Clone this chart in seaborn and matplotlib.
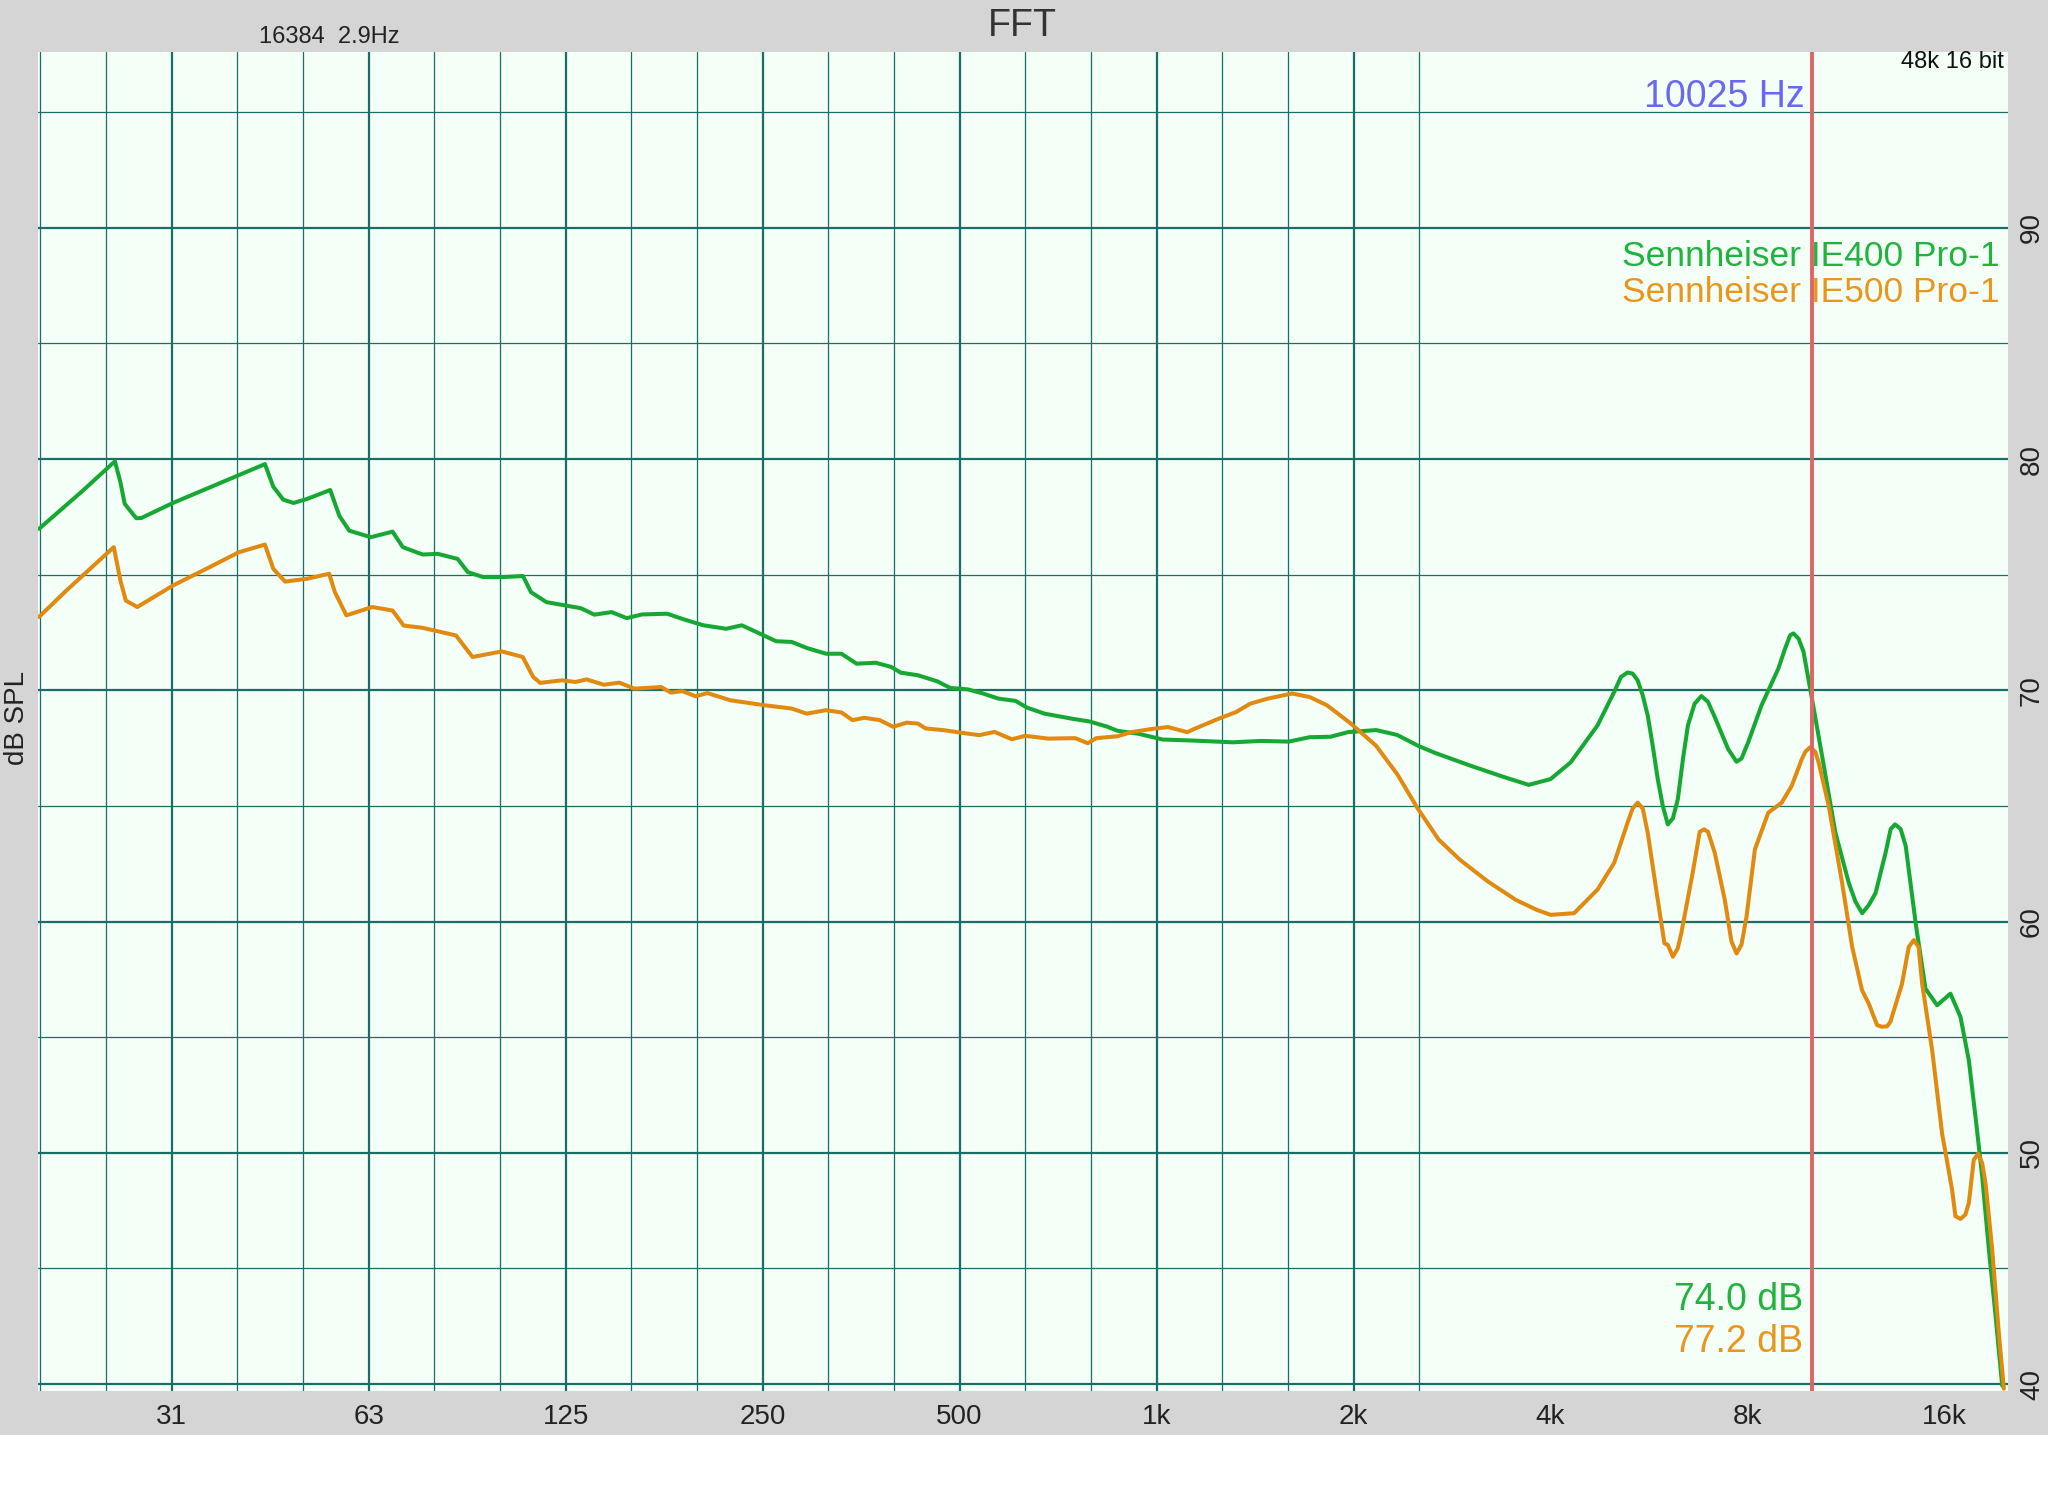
import numpy as np
import pandas as pd

import matplotlib
matplotlib.use("Agg")
import matplotlib.pyplot as plt
from matplotlib.patches import Rectangle
import seaborn as sns


# values (Hz, dB SPL)
ie400_freq = [19.6, 22.8, 25.6, 26.1, 26.5, 27.6, 28.1, 31.4, 37.8, 43.4, 44.7, 46.3, 48.0, 50.3,
              54.6, 56.4, 58.4, 63.0, 68.0, 70.5, 75.6, 79.7, 85.5, 88.6, 93.4, 99.4, 107.6, 110.7,
              116.9, 131.9, 138.3, 147, 155, 163.6, 178.7, 189.8, 203, 220, 232.4, 252, 262.3, 277,
              292, 312.6, 330, 348, 372.4, 393, 406.6, 431.7, 462, 484, 514.7, 543, 573, 609, 634,
              674, 743, 790, 840, 871, 938, 1022, 1128, 1307, 1443, 1592, 1713, 1844, 1961, 2165,
              2331, 2510, 2665, 3017, 3410, 3704, 4000, 4292, 4718, 4888, 5004, 5124, 5245, 5339,
              5434, 5532, 5630, 5730, 5832, 5936, 6042, 6151, 6259, 6373, 6485, 6640, 6800, 6960,
              7128, 7470, 7695, 7831, 8017, 8403, 8915, 9128, 9292, 9400, 9573, 9740, 10033,
              10396, 10897, 11422, 11694, 11973, 12259, 12550, 13000, 13236, 13440, 13709, 13956,
              14457, 14958, 15586, 16335, 16920, 17425, 17837, 18263, 18699, 19145, 19596]
ie400_db = [76.98, 78.6, 79.9, 79.0, 78.06, 77.44, 77.45, 78.1, 79.06, 79.78, 78.8, 78.24, 78.1, 78.27,
            78.66, 77.54, 76.9, 76.62, 76.86, 76.19, 75.87, 75.9, 75.68, 75.11, 74.9, 74.89, 74.94, 74.24,
            73.81, 73.55, 73.27, 73.38, 73.12, 73.28, 73.31, 73.06, 72.81, 72.66, 72.81, 72.35, 72.12, 72.09,
            71.83, 71.58, 71.58, 71.15, 71.19, 71.01, 70.76, 70.65, 70.39, 70.1, 70.04, 69.86, 69.64, 69.54, 69.25,
            68.99, 68.77, 68.65, 68.43, 68.25, 68.12, 67.87, 67.83, 67.75, 67.81, 67.78, 67.97, 67.99, 68.19, 68.28,
            68.07, 67.6, 67.29, 66.74, 66.23, 65.91, 66.16, 66.88, 68.48, 69.35, 69.93, 70.58, 70.77, 70.72,
            70.43, 69.78, 68.91, 67.6, 66.16, 65.0, 64.2, 64.46, 65.29, 67.03, 68.48, 69.42, 69.75, 69.5,
            68.84, 67.46, 66.91, 67.05, 67.75, 69.35, 70.94, 71.8, 72.38, 72.46, 72.23, 71.67, 69.64,
            67.17, 63.84, 61.67, 60.86, 60.36, 60.72, 61.23, 62.97, 64.0, 64.2, 64.0, 63.26,
            59.9, 57.1, 56.38, 56.88, 55.88, 54.0, 51.57, 48.98, 45.82, 42.95, 39.93]

ie500_freq = [19.6, 21.5, 25.5, 26.1, 26.6, 27.7, 31.4, 35.3, 39.6, 43.4, 44.7, 46.6, 50.3, 54.4, 55.5,
              57.8, 63.3, 68.0, 70.7, 75.6, 85, 90.1, 99.9, 107.5, 111.5, 114.3, 123.3, 129.4, 134.6, 143,
              151, 159.3, 175, 181, 188.6, 197.6, 205.9, 223, 252, 277, 292, 312.6, 330, 343, 357.6, 377.5,
              395.8, 414.9, 431.7, 443.8, 474.6, 501, 536, 565.6, 601, 630, 683, 751, 785, 809, 871, 915,
              985, 1041, 1114, 1142, 1244, 1323, 1390, 1479, 1611, 1713, 1822, 1983, 2165, 2331, 2510,
              2697, 2905, 3205, 3538, 3806, 4000, 4345, 4718, 5004, 5245, 5339, 5434, 5532, 5630, 5832,
              5971, 6042, 6151, 6259, 6335, 6594, 6760, 6863, 6960, 7128, 7383, 7559, 7695, 7831, 7971,
              8209, 8605, 9021, 9345, 9685, 9802, 9973, 10153, 10273, 10644, 11157, 11558, 11967,
              12254, 12617, 12843, 13069, 13222, 13775, 14104, 14360, 14600, 14786, 15315, 15858,
              16429, 16623, 16920, 17218, 17425, 17731, 18003, 18263, 18479, 18918, 19362, 19711]
ie500_db = [73.17, 74.27, 76.19, 74.75, 73.88, 73.6, 74.53, 75.25, 75.97, 76.3, 75.25, 74.7, 74.82, 75.04, 74.25,
            73.24, 73.6, 73.45, 72.8, 72.7, 72.37, 71.44, 71.68, 71.44, 70.58, 70.32, 70.43, 70.36, 70.47, 70.24,
            70.33, 70.07, 70.14, 69.9, 69.96, 69.74, 69.88, 69.57, 69.35, 69.21, 68.99, 69.14, 69.04, 68.71, 68.81, 68.71,
            68.42, 68.6, 68.56, 68.35, 68.27, 68.17, 68.06, 68.2, 67.88, 68.03, 67.91, 67.93, 67.71, 67.93, 68.01, 68.19,
            68.33, 68.41, 68.19, 68.33, 68.77, 69.06, 69.42, 69.64, 69.86, 69.71, 69.35, 68.55, 67.6, 66.38, 64.86,
            63.55, 62.68, 61.74, 60.94, 60.51, 60.29, 60.36, 61.38, 62.54, 64.28, 64.89, 65.14, 64.89, 63.84, 60.94,
            59.06, 58.99, 58.48, 58.85, 59.49, 62.1, 63.88, 63.99, 63.88, 62.97, 60.94, 59.14, 58.62, 59.0, 60.22,
            63.12, 64.71, 65.14, 65.87, 67.03, 67.34, 67.54, 67.34, 66.88, 65.0, 61.67, 58.91, 57.03,
            56.45, 55.52, 55.45, 55.47, 55.66, 57.31, 58.9, 59.2, 58.9, 57.31, 54.44, 50.85,
            48.4, 47.26, 47.14, 47.33, 47.83, 49.7, 49.96, 49.55, 48.69, 45.82, 42.23, 39.8]

series_names = ["Sennheiser IE400 Pro-1", "Sennheiser IE500 Pro-1"]
level_labels = ["74.0 dB", "77.2 dB"]

x_tick_freqs = [31.25, 62.5, 125, 250, 500, 1000, 2000, 4000, 8000, 16000]
x_tick_labels = ["31", "63", "125", "250", "500", "1k", "2k", "4k", "8k", "16k"]
y_tick_values = [40, 50, 60, 70, 80, 90]

cursor_freq = 10025


df = pd.concat([
    pd.DataFrame({"freq": ie400_freq, "spl": ie400_db, "model": series_names[0]}),
    pd.DataFrame({"freq": ie500_freq, "spl": ie500_db, "model": series_names[1]}),
])

line_colors = {series_names[0]: "#16a832", series_names[1]: "#e08a10"}
text_colors = ["#22b23e", "#e8961e"]
grid_color = "#1b6e65"

sns.set_style("white")
plt.rcParams["font.family"] = ["Liberation Sans", "DejaVu Sans"]

W, H = 2048, 1496
fig = plt.figure(figsize=(W / 100, H / 100), dpi=100, facecolor="#d5d5d5")
fig.patches.append(
    Rectangle((0, 0), 1, 61 / H, transform=fig.transFigure,
              facecolor="white", edgecolor="none", zorder=0)
)

left, right, top, bottom = 38, 2008, 52, 1391
ax = fig.add_axes([left / W, 1 - bottom / H, (right - left) / W, (bottom - top) / H])
ax.set_facecolor("#f3fff7")

ax.set_xscale("log")
ax.set_xlim(20000 / 1024, 20000)
ax.set_ylim(39.7, 97.6)

# third octave grid, thicker on whole octaves
for k in range(-17, 5):
    f = 1000 * 2 ** (k / 3)
    ax.axvline(f, color=grid_color, lw=1.6 if k % 3 == 0 else 0.9, zorder=1)

for v in range(40, 100, 5):
    ax.axhline(v, color=grid_color, lw=1.6 if v % 10 == 0 else 0.9, zorder=1)

sns.lineplot(
    data=df,
    x="freq",
    y="spl",
    hue="model",
    palette=line_colors,
    estimator=None,
    sort=False,
    linewidth=2.9,
    legend=False,
    ax=ax,
    zorder=3
)

ax.axvline(cursor_freq, color="#e06464", lw=2.8, zorder=4)

for s in ax.spines.values():
    s.set_visible(False)

ax.minorticks_off()
ax.set_xticks(x_tick_freqs)
ax.set_xticklabels(x_tick_labels)
ax.tick_params(axis="x", length=0, pad=9, labelsize=20, labelcolor="#222222")

ax.yaxis.tick_right()
ax.set_yticks(y_tick_values)
ax.set_yticklabels([str(v) for v in y_tick_values])
ax.tick_params(axis="y", length=0, pad=8, labelsize=20, labelcolor="#222222", labelrotation=90)
for lab in ax.get_yticklabels():
    lab.set_va("center")

ax.set_xlabel("")
ax.set_ylabel("")

fig.text(17 / W, 1 - 718 / H, "dB SPL", rotation=90, ha="center", va="center",
         fontsize=20, color="#222222")
fig.text(1022 / W, 1 - 26 / H, "FFT", ha="center", va="center", fontsize=27, color="#333333")
fig.text(329 / W, 1 - 37 / H, "16384  2.9Hz", ha="center", va="center", fontsize=17, color="#222222")
fig.text(2004 / W, 1 - 62 / H, "48k 16 bit", ha="right", va="center", fontsize=17,
         color="#111111", zorder=5)

fig.text(1805 / W, 1 - 97 / H, f"{cursor_freq} Hz", ha="right", va="center",
         fontsize=27, color="#6868f0")

fig.text(2000 / W, 1 - 257 / H, series_names[0], ha="right", va="center",
         fontsize=25.5, color=text_colors[0])
fig.text(2000 / W, 1 - 293 / H, series_names[1], ha="right", va="center",
         fontsize=25.5, color=text_colors[1])

fig.text(1803 / W, 1 - 1300 / H, level_labels[0], ha="right", va="center",
         fontsize=27, color=text_colors[0])
fig.text(1803 / W, 1 - 1342 / H, level_labels[1], ha="right", va="center",
         fontsize=27, color=text_colors[1])

fig.savefig("out.png", dpi=100, facecolor=fig.get_facecolor())
